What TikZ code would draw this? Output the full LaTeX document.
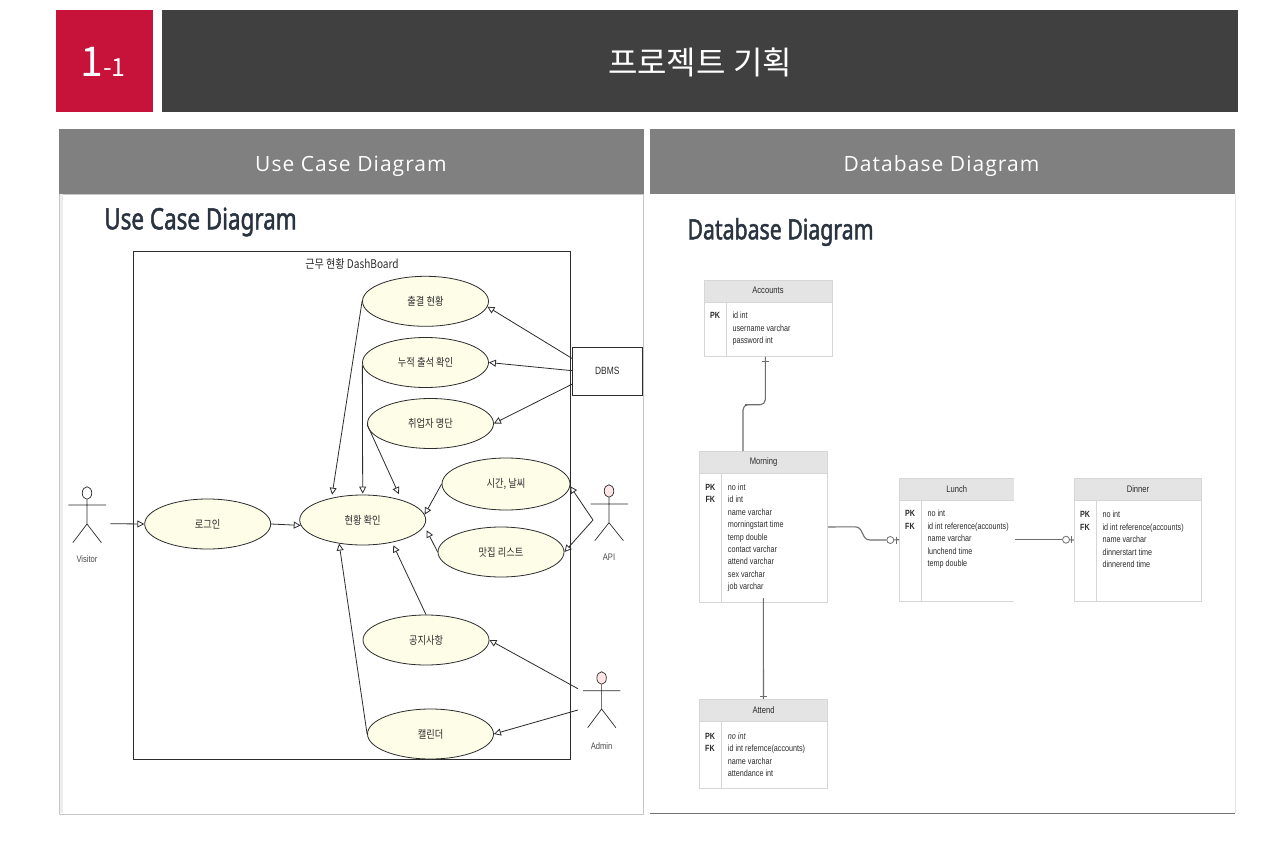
\documentclass[tikz,border=0pt]{standalone}
\usepackage{fontspec}
\usetikzlibrary{shapes.geometric,arrows.meta}
\setmainfont{Liberation Sans}
\newfontfamily\krfont{Noto Sans CJK KR}
\newfontfamily\krnarrow[FakeStretch=0.84]{Noto Sans CJK KR}
\newfontfamily\headfont[LetterSpace=5]{Open Sans}
\newfontfamily\titlefont[FakeStretch=0.76,FakeBold=1.6]{Noto Sans}
\newfontfamily\dbfont[FakeStretch=0.8]{Liberation Sans}
\definecolor{crimson}{HTML}{C7133A}
\definecolor{darkbar}{HTML}{404040}
\definecolor{graybar}{HTML}{808080}
\definecolor{cream}{HTML}{FDFDE8}
\definecolor{ink}{HTML}{2C2C2C}
\definecolor{titleink}{HTML}{2A3340}
\definecolor{tblline}{HTML}{D6D6D6}
\definecolor{tblhead}{HTML}{E4E4E4}
\definecolor{erline}{HTML}{6E6E6E}
\tikzset{
  x=1pt,y=-1pt,
  barlabel/.style={text=white,inner sep=0pt,anchor=center},
  uc/.style={ellipse,draw=ink,fill=cream,line width=0.8pt,minimum width=126pt,minimum height=50pt,inner sep=0pt,font=\krnarrow\fontsize{11}{13}\selectfont,text=ink},
  assoc/.style={draw=ink,line width=0.8pt,-{Triangle[open,fill=white,length=7pt,width=7pt]}},
  stick/.style={draw=ink,line width=0.7pt},
  actorname/.style={inner sep=0pt,text=ink!85,font=\dbfont\fontsize{9.5}{11}\selectfont},
  tbl/.style={rectangle,inner sep=0pt,draw=tblline,line width=1pt},
  tblbare/.style={rectangle,inner sep=0pt},
  tblname/.style={inner sep=0pt,text=ink,font=\dbfont\fontsize{9.5}{11}\selectfont},
  keys/.style={inner sep=0pt,anchor=north,align=center,text=ink,font=\dbfont\bfseries\fontsize{9}{12.4}\selectfont},
  fields/.style={inner sep=0pt,anchor=north west,align=left,text=ink,font=\dbfont\fontsize{9}{12.4}\selectfont},
  erl/.style={draw=erline,line width=1.1pt},
  zero/.style={circle,draw=erline,fill=white,line width=0.8pt,minimum size=7pt,inner sep=0pt},
  paneltitle/.style={inner sep=0pt,text=titleink},
}
\begin{document}
\begin{tikzpicture}
\useasboundingbox (0,0) rectangle (1285,848);
\fill[white] (0,0) rectangle (1285,848);
% top bars
\fill[crimson] (56,10) rectangle (153,112);
\fill[darkbar] (162,10) rectangle (1238,112);
\node[barlabel,anchor=base west,font=\krfont\fontsize{41}{41}\selectfont] (numA) at (80,77) {1};
\node[barlabel,anchor=base west,font=\krfont\fontsize{25}{25}\selectfont] (numB) at (103,77) {-1};
\node[barlabel,font=\krfont\fontsize{32}{36}\selectfont] (mainT) at (700,62) {프로젝트 기획};
% panels
\fill[white,draw=black!22,line width=1pt] (59,194) rectangle (643.5,814);
\fill[black!7] (60,194) rectangle (63,813);
\fill[graybar] (59,129) rectangle (644,194);
\fill[graybar] (650,129) rectangle (1235,194);
\draw[black!9,line width=1pt] (1235,194) -- (1235,813);
\draw[black!55,line width=1pt] (650,813.5) -- (1235,813.5);
\node[barlabel,font=\headfont\fontsize{21}{24}\selectfont] (hUC) at (351,166) {Use Case Diagram};
\node[barlabel,font=\headfont\fontsize{21}{24}\selectfont] (hDB) at (941.5,166) {Database Diagram};
\node[paneltitle,font=\titlefont\fontsize{29.5}{33}\selectfont] (tUC) at (200.5,222) {Use Case Diagram};
\node[paneltitle,font=\titlefont\fontsize{28}{32}\selectfont] (tDB) at (780.5,232) {Database Diagram};
% use case system box
\node[rectangle,draw=ink,line width=0.8pt,fill=white,minimum width=437pt,minimum height=507.5pt,inner sep=0pt] (sys) at (352,505.5) {};
\node[inner sep=0pt,text=ink,font=\krnarrow\fontsize{12}{14}\selectfont] (sysT) at (352,264) {근무 현황 DashBoard};
% use cases
\node[uc] (chul) at (425.5,301.3) {출결 현황};
\node[uc] (nu) at (425.5,362.5) {누적 출석 확인};
\node[uc] (chwi) at (430.5,423.5) {취업자 명단};
\node[uc,minimum width=128pt,minimum height=52pt] (tim) at (506,484) {시간, 날씨};
\node[uc] (cur) at (362.7,520) {현황 확인};
\node[uc] (log) at (207.7,524) {로그인};
\node[uc] (mat) at (501,552) {맛집 리스트};
\node[uc] (gong) at (426,640) {공지사항};
\node[uc] (cal) at (430.5,734) {캘린더};
\node[rectangle,draw=ink,line width=0.8pt,fill=white,minimum width=69.4pt,minimum height=48pt,inner sep=0pt,text=ink,font=\dbfont\fontsize{10.5}{12}\selectfont] (dbms) at (607.3,371.3) {DBMS};
% actors
\node[ellipse,draw=ink,fill=white,line width=0.7pt,minimum width=9.5pt,minimum height=12.5pt,inner sep=0pt] (visH) at (87,493) {};
\coordinate (visN) at (87,505); \coordinate (visA) at (68.3,505); \coordinate (visB) at (106,505);
\coordinate (visH2) at (87,524); \coordinate (visL) at (72.8,542.7); \coordinate (visR) at (101.4,542.7);
\draw[stick] (visA) -- (visB) (visH) -- (visH2) (visL) -- (visH2) -- (visR);
\node[actorname] (visN2) at (87,559) {Visitor};
\node[ellipse,draw=ink,fill=red!10,line width=0.7pt,minimum width=9.5pt,minimum height=12.5pt,inner sep=0pt] (apiH) at (609,491) {};
\coordinate (apiA) at (590.7,504); \coordinate (apiB) at (628,504);
\coordinate (apiH2) at (609,522.7); \coordinate (apiL) at (594.8,540.7); \coordinate (apiR) at (623.4,540.7);
\draw[stick] (apiA) -- (apiB) (apiH) -- (apiH2) (apiL) -- (apiH2) -- (apiR);
\node[actorname] (apiN) at (609,557) {API};
\node[ellipse,draw=ink,fill=red!10,line width=0.7pt,minimum width=9.5pt,minimum height=12.5pt,inner sep=0pt] (admH) at (601.6,678) {};
\coordinate (admA) at (582.8,690.7); \coordinate (admB) at (620.4,690.7);
\coordinate (admH2) at (601.6,709); \coordinate (admL) at (587.7,727.7); \coordinate (admR) at (615.9,727.7);
\draw[stick] (admA) -- (admB) (admH) -- (admH2) (admL) -- (admH2) -- (admR);
\node[actorname] (admN) at (601.6,745.7) {Admin};
% associations
\draw[assoc] (dbms.160.5) -- (chul.-5);
\draw[assoc] (dbms.179) -- (nu.0);
\draw[assoc] (dbms.200.5) -- (chwi.0);
\draw[assoc] (chul.180) -- ([yshift=3pt]cur.144);
\draw[assoc] (nu.182) -- ([yshift=1pt]cur.90);
\draw[assoc] (chwi.181) -- ([yshift=5pt]cur.30);
\draw[assoc] (tim.180) -- (cur.5);
\draw[assoc] (mat.180) -- ([xshift=8pt,yshift=1.5pt]cur.-12);
\draw[assoc] (gong.90) -- ([yshift=-3pt]cur.-36);
\draw[assoc] (cal.180) -- (cur.-135);
\draw[assoc] (log.0) -- (cur.185.5);
\coordinate (visOut) at (110.4,523.7);
\draw[assoc] (visOut) -- (log.180);
\coordinate (apiJ) at (593,520);
\draw[assoc] (apiJ) -- (tim.-2);
\draw[assoc] (apiJ) -- (mat.0);
\coordinate (admOutA) at (577.9,688.7);
\coordinate (admOutB) at (577.9,710);
\draw[assoc] (admOutA) -- (gong.0);
\draw[assoc] (admOutB) -- (cal.0);
% ER tables
\fill[tblhead] (704.3,280.3) rectangle (832.3,302.3);
\node[tbl,minimum width=128pt,minimum height=76pt] (accT) at (768.3,318.3) {};
\draw[tblline,line width=1pt] (704.3,302.3) -- (832.3,302.3) (726.3,302.3) -- (726.3,356.3);
\node[tblname] (accN) at (768,290.3) {Accounts};
\node[keys] (accK) at (715,310) {\strut PK};
\node[fields] (accF) at (732.3,310) {\strut id int\\username varchar\\password int};

\fill[tblhead] (699.3,451.7) rectangle (827.7,473.7);
\node[tbl,minimum width=128.4pt,minimum height=150.6pt] (morT) at (763.5,527) {};
\draw[tblline,line width=1pt] (699.3,473.7) -- (827.7,473.7) (721.3,473.7) -- (721.3,602.3);
\node[tblname] (morN) at (763.5,462.3) {Morning};
\node[keys] (morK) at (710.3,481.7) {\strut PK\\FK};
\node[fields] (morF) at (727.7,481.7) {\strut no int\\id int\\name varchar\\morningstart time\\temp double\\contact varchar\\attend varchar\\sex varchar\\job varchar};

\fill[tblhead] (899.3,478.3) rectangle (1014.3,500.7);
\node[tblbare,minimum width=115pt,minimum height=122.7pt] (lunT) at (956.8,539.7) {};
\draw[tblline,line width=1pt] (1014.3,478.3) -- (899.3,478.3) -- (899.3,601) -- (1014.3,601) (899.3,500.7) -- (1014.3,500.7) (921.3,500.7) -- (921.3,601);
\node[tblname] (lunN) at (956.8,488.7) {Lunch};
\node[keys] (lunK) at (910,508) {\strut PK\\FK};
\node[fields] (lunF) at (927.3,508) {\strut no int\\id int reference(accounts)\\name varchar\\lunchend time\\temp double};

\fill[tblhead] (1074.3,478.3) rectangle (1201.7,500.7);
\node[tbl,minimum width=127.4pt,minimum height=123.4pt] (dinT) at (1138,540) {};
\draw[tblline,line width=1pt] (1074.3,500.7) -- (1201.7,500.7) (1096.3,500.7) -- (1096.3,601.7);
\node[tblname] (dinN) at (1138,489.3) {Dinner};
\node[keys] (dinK) at (1085,509) {\strut PK\\FK};
\node[fields] (dinF) at (1102.3,509) {\strut no int\\id int reference(accounts)\\name varchar\\dinnerstart time\\dinnerend time};

\fill[tblhead] (699.3,699.3) rectangle (827.7,721.7);
\node[tbl,minimum width=128.4pt,minimum height=89pt] (attT) at (763.5,743.8) {};
\draw[tblline,line width=1pt] (699.3,721.7) -- (827.7,721.7) (721.7,721.7) -- (721.7,788.3);
\node[tblname] (attN) at (763.5,710.3) {Attend};
\node[keys] (attK) at (710,730.7) {\strut PK\\FK};
\node[fields] (attF) at (727.7,730.7) {\strut{\itshape no int}\\id int refernce(accounts)\\name varchar\\attendance int};
% ER connectors
\coordinate (bend) at (750,404.7);
\draw[erl,rounded corners=5pt] ([xshift=-20.5pt]morT.north) |- (bend) -| ([xshift=-3pt]accT.south);
\coordinate (tickA) at (765.3,361);
\draw[erl,line width=0.7pt] ([xshift=-3.5pt]tickA) -- ([xshift=3.5pt]tickA);
\coordinate (c1) at (855,526.8);
\coordinate (c2) at (870,540);
\node[zero] (zeroA) at (890.3,540) {};
\draw[erl] (morT.east) -- (c1) .. controls +(9,0) and +(-9,0) .. (c2) -- (zeroA);
\draw[erl] (zeroA) -- (lunT.west);
\coordinate (tickB) at (896,540);
\draw[erl,line width=0.7pt] ([yshift=3.5pt]tickB) -- ([yshift=-3.5pt]tickB);
\node[zero] (zeroB) at (1066,539.7) {};
\draw[erl] (lunT.east) -- (zeroB);
\draw[erl] (zeroB) -- (dinT.west);
\coordinate (tickC) at (1071,539.7);
\draw[erl,line width=0.7pt] ([yshift=3.5pt]tickC) -- ([yshift=-3.5pt]tickC);
\coordinate (morOut) at (763.3,598);
\draw[erl] (morOut) -- (attT.north);
\coordinate (tickD) at (763.3,696);
\draw[erl,line width=0.7pt] ([xshift=-3.5pt]tickD) -- ([xshift=3.5pt]tickD);
\end{tikzpicture}
\end{document}
